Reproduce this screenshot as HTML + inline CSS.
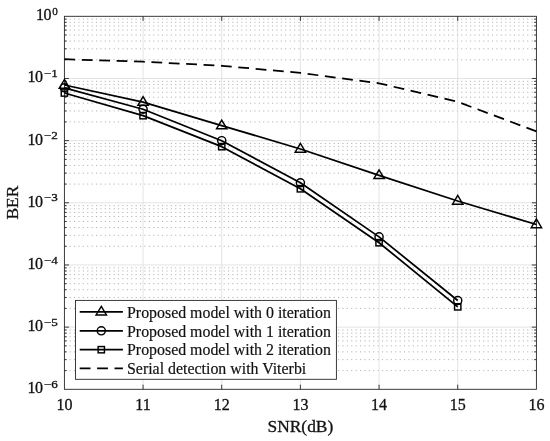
<!DOCTYPE html>
<html><head><meta charset="utf-8"><title>BER vs SNR</title>
<style>
html,body{margin:0;padding:0;background:#fff;}
svg{display:block;}
text{font-family:"Liberation Serif","DejaVu Serif",serif;fill:#111;stroke:#111;stroke-width:0.3px;}
.lg text{stroke-width:0.18px;}
</style></head>
<body>
<svg width="550" height="441" viewBox="0 0 550 441">
<rect x="0" y="0" width="550" height="441" fill="#fff"/>
<g stroke="#b0b0b0" stroke-width="1" stroke-dasharray="1.1 3.3" stroke-dashoffset="-0.8" fill="none">
<line x1="64.40" y1="59.75" x2="536.40" y2="59.75"/>
<line x1="64.40" y1="48.81" x2="536.40" y2="48.81"/>
<line x1="64.40" y1="41.04" x2="536.40" y2="41.04"/>
<line x1="64.40" y1="35.01" x2="536.40" y2="35.01"/>
<line x1="64.40" y1="30.09" x2="536.40" y2="30.09"/>
<line x1="64.40" y1="25.93" x2="536.40" y2="25.93"/>
<line x1="64.40" y1="22.32" x2="536.40" y2="22.32"/>
<line x1="64.40" y1="19.14" x2="536.40" y2="19.14"/>
<line x1="64.40" y1="121.92" x2="536.40" y2="121.92"/>
<line x1="64.40" y1="110.97" x2="536.40" y2="110.97"/>
<line x1="64.40" y1="103.21" x2="536.40" y2="103.21"/>
<line x1="64.40" y1="97.18" x2="536.40" y2="97.18"/>
<line x1="64.40" y1="92.26" x2="536.40" y2="92.26"/>
<line x1="64.40" y1="88.10" x2="536.40" y2="88.10"/>
<line x1="64.40" y1="84.49" x2="536.40" y2="84.49"/>
<line x1="64.40" y1="81.31" x2="536.40" y2="81.31"/>
<line x1="64.40" y1="184.09" x2="536.40" y2="184.09"/>
<line x1="64.40" y1="173.14" x2="536.40" y2="173.14"/>
<line x1="64.40" y1="165.37" x2="536.40" y2="165.37"/>
<line x1="64.40" y1="159.35" x2="536.40" y2="159.35"/>
<line x1="64.40" y1="154.42" x2="536.40" y2="154.42"/>
<line x1="64.40" y1="150.26" x2="536.40" y2="150.26"/>
<line x1="64.40" y1="146.66" x2="536.40" y2="146.66"/>
<line x1="64.40" y1="143.48" x2="536.40" y2="143.48"/>
<line x1="64.40" y1="246.25" x2="536.40" y2="246.25"/>
<line x1="64.40" y1="235.31" x2="536.40" y2="235.31"/>
<line x1="64.40" y1="227.54" x2="536.40" y2="227.54"/>
<line x1="64.40" y1="221.51" x2="536.40" y2="221.51"/>
<line x1="64.40" y1="216.59" x2="536.40" y2="216.59"/>
<line x1="64.40" y1="212.43" x2="536.40" y2="212.43"/>
<line x1="64.40" y1="208.82" x2="536.40" y2="208.82"/>
<line x1="64.40" y1="205.64" x2="536.40" y2="205.64"/>
<line x1="64.40" y1="308.42" x2="536.40" y2="308.42"/>
<line x1="64.40" y1="297.47" x2="536.40" y2="297.47"/>
<line x1="64.40" y1="289.71" x2="536.40" y2="289.71"/>
<line x1="64.40" y1="283.68" x2="536.40" y2="283.68"/>
<line x1="64.40" y1="278.76" x2="536.40" y2="278.76"/>
<line x1="64.40" y1="274.60" x2="536.40" y2="274.60"/>
<line x1="64.40" y1="270.99" x2="536.40" y2="270.99"/>
<line x1="64.40" y1="267.81" x2="536.40" y2="267.81"/>
<line x1="64.40" y1="370.59" x2="536.40" y2="370.59"/>
<line x1="64.40" y1="359.64" x2="536.40" y2="359.64"/>
<line x1="64.40" y1="351.87" x2="536.40" y2="351.87"/>
<line x1="64.40" y1="345.85" x2="536.40" y2="345.85"/>
<line x1="64.40" y1="340.92" x2="536.40" y2="340.92"/>
<line x1="64.40" y1="336.76" x2="536.40" y2="336.76"/>
<line x1="64.40" y1="333.16" x2="536.40" y2="333.16"/>
<line x1="64.40" y1="329.98" x2="536.40" y2="329.98"/>
</g>
<g stroke="#dcdcdc" stroke-width="0.8" fill="none">
<line x1="64.40" y1="78.47" x2="536.40" y2="78.47"/>
<line x1="64.40" y1="140.63" x2="536.40" y2="140.63"/>
<line x1="64.40" y1="202.80" x2="536.40" y2="202.80"/>
<line x1="64.40" y1="264.97" x2="536.40" y2="264.97"/>
<line x1="64.40" y1="327.13" x2="536.40" y2="327.13"/>
<line x1="143.07" y1="16.30" x2="143.07" y2="389.30"/>
<line x1="221.73" y1="16.30" x2="221.73" y2="389.30"/>
<line x1="300.40" y1="16.30" x2="300.40" y2="389.30"/>
<line x1="379.07" y1="16.30" x2="379.07" y2="389.30"/>
<line x1="457.73" y1="16.30" x2="457.73" y2="389.30"/>
</g>
<g stroke="#262626" stroke-width="0.9" fill="none">
<line x1="143.07" y1="389.30" x2="143.07" y2="384.70"/>
<line x1="143.07" y1="16.30" x2="143.07" y2="20.90"/>
<line x1="221.73" y1="389.30" x2="221.73" y2="384.70"/>
<line x1="221.73" y1="16.30" x2="221.73" y2="20.90"/>
<line x1="300.40" y1="389.30" x2="300.40" y2="384.70"/>
<line x1="300.40" y1="16.30" x2="300.40" y2="20.90"/>
<line x1="379.07" y1="389.30" x2="379.07" y2="384.70"/>
<line x1="379.07" y1="16.30" x2="379.07" y2="20.90"/>
<line x1="457.73" y1="389.30" x2="457.73" y2="384.70"/>
<line x1="457.73" y1="16.30" x2="457.73" y2="20.90"/>
<line x1="64.40" y1="78.47" x2="69.00" y2="78.47"/>
<line x1="536.40" y1="78.47" x2="531.80" y2="78.47"/>
<line x1="64.40" y1="140.63" x2="69.00" y2="140.63"/>
<line x1="536.40" y1="140.63" x2="531.80" y2="140.63"/>
<line x1="64.40" y1="202.80" x2="69.00" y2="202.80"/>
<line x1="536.40" y1="202.80" x2="531.80" y2="202.80"/>
<line x1="64.40" y1="264.97" x2="69.00" y2="264.97"/>
<line x1="536.40" y1="264.97" x2="531.80" y2="264.97"/>
<line x1="64.40" y1="327.13" x2="69.00" y2="327.13"/>
<line x1="536.40" y1="327.13" x2="531.80" y2="327.13"/>
<line x1="64.40" y1="59.75" x2="66.70" y2="59.75"/>
<line x1="536.40" y1="59.75" x2="534.10" y2="59.75"/>
<line x1="64.40" y1="48.81" x2="66.70" y2="48.81"/>
<line x1="536.40" y1="48.81" x2="534.10" y2="48.81"/>
<line x1="64.40" y1="41.04" x2="66.70" y2="41.04"/>
<line x1="536.40" y1="41.04" x2="534.10" y2="41.04"/>
<line x1="64.40" y1="35.01" x2="66.70" y2="35.01"/>
<line x1="536.40" y1="35.01" x2="534.10" y2="35.01"/>
<line x1="64.40" y1="30.09" x2="66.70" y2="30.09"/>
<line x1="536.40" y1="30.09" x2="534.10" y2="30.09"/>
<line x1="64.40" y1="25.93" x2="66.70" y2="25.93"/>
<line x1="536.40" y1="25.93" x2="534.10" y2="25.93"/>
<line x1="64.40" y1="22.32" x2="66.70" y2="22.32"/>
<line x1="536.40" y1="22.32" x2="534.10" y2="22.32"/>
<line x1="64.40" y1="19.14" x2="66.70" y2="19.14"/>
<line x1="536.40" y1="19.14" x2="534.10" y2="19.14"/>
<line x1="64.40" y1="121.92" x2="66.70" y2="121.92"/>
<line x1="536.40" y1="121.92" x2="534.10" y2="121.92"/>
<line x1="64.40" y1="110.97" x2="66.70" y2="110.97"/>
<line x1="536.40" y1="110.97" x2="534.10" y2="110.97"/>
<line x1="64.40" y1="103.21" x2="66.70" y2="103.21"/>
<line x1="536.40" y1="103.21" x2="534.10" y2="103.21"/>
<line x1="64.40" y1="97.18" x2="66.70" y2="97.18"/>
<line x1="536.40" y1="97.18" x2="534.10" y2="97.18"/>
<line x1="64.40" y1="92.26" x2="66.70" y2="92.26"/>
<line x1="536.40" y1="92.26" x2="534.10" y2="92.26"/>
<line x1="64.40" y1="88.10" x2="66.70" y2="88.10"/>
<line x1="536.40" y1="88.10" x2="534.10" y2="88.10"/>
<line x1="64.40" y1="84.49" x2="66.70" y2="84.49"/>
<line x1="536.40" y1="84.49" x2="534.10" y2="84.49"/>
<line x1="64.40" y1="81.31" x2="66.70" y2="81.31"/>
<line x1="536.40" y1="81.31" x2="534.10" y2="81.31"/>
<line x1="64.40" y1="184.09" x2="66.70" y2="184.09"/>
<line x1="536.40" y1="184.09" x2="534.10" y2="184.09"/>
<line x1="64.40" y1="173.14" x2="66.70" y2="173.14"/>
<line x1="536.40" y1="173.14" x2="534.10" y2="173.14"/>
<line x1="64.40" y1="165.37" x2="66.70" y2="165.37"/>
<line x1="536.40" y1="165.37" x2="534.10" y2="165.37"/>
<line x1="64.40" y1="159.35" x2="66.70" y2="159.35"/>
<line x1="536.40" y1="159.35" x2="534.10" y2="159.35"/>
<line x1="64.40" y1="154.42" x2="66.70" y2="154.42"/>
<line x1="536.40" y1="154.42" x2="534.10" y2="154.42"/>
<line x1="64.40" y1="150.26" x2="66.70" y2="150.26"/>
<line x1="536.40" y1="150.26" x2="534.10" y2="150.26"/>
<line x1="64.40" y1="146.66" x2="66.70" y2="146.66"/>
<line x1="536.40" y1="146.66" x2="534.10" y2="146.66"/>
<line x1="64.40" y1="143.48" x2="66.70" y2="143.48"/>
<line x1="536.40" y1="143.48" x2="534.10" y2="143.48"/>
<line x1="64.40" y1="246.25" x2="66.70" y2="246.25"/>
<line x1="536.40" y1="246.25" x2="534.10" y2="246.25"/>
<line x1="64.40" y1="235.31" x2="66.70" y2="235.31"/>
<line x1="536.40" y1="235.31" x2="534.10" y2="235.31"/>
<line x1="64.40" y1="227.54" x2="66.70" y2="227.54"/>
<line x1="536.40" y1="227.54" x2="534.10" y2="227.54"/>
<line x1="64.40" y1="221.51" x2="66.70" y2="221.51"/>
<line x1="536.40" y1="221.51" x2="534.10" y2="221.51"/>
<line x1="64.40" y1="216.59" x2="66.70" y2="216.59"/>
<line x1="536.40" y1="216.59" x2="534.10" y2="216.59"/>
<line x1="64.40" y1="212.43" x2="66.70" y2="212.43"/>
<line x1="536.40" y1="212.43" x2="534.10" y2="212.43"/>
<line x1="64.40" y1="208.82" x2="66.70" y2="208.82"/>
<line x1="536.40" y1="208.82" x2="534.10" y2="208.82"/>
<line x1="64.40" y1="205.64" x2="66.70" y2="205.64"/>
<line x1="536.40" y1="205.64" x2="534.10" y2="205.64"/>
<line x1="64.40" y1="308.42" x2="66.70" y2="308.42"/>
<line x1="536.40" y1="308.42" x2="534.10" y2="308.42"/>
<line x1="64.40" y1="297.47" x2="66.70" y2="297.47"/>
<line x1="536.40" y1="297.47" x2="534.10" y2="297.47"/>
<line x1="64.40" y1="289.71" x2="66.70" y2="289.71"/>
<line x1="536.40" y1="289.71" x2="534.10" y2="289.71"/>
<line x1="64.40" y1="283.68" x2="66.70" y2="283.68"/>
<line x1="536.40" y1="283.68" x2="534.10" y2="283.68"/>
<line x1="64.40" y1="278.76" x2="66.70" y2="278.76"/>
<line x1="536.40" y1="278.76" x2="534.10" y2="278.76"/>
<line x1="64.40" y1="274.60" x2="66.70" y2="274.60"/>
<line x1="536.40" y1="274.60" x2="534.10" y2="274.60"/>
<line x1="64.40" y1="270.99" x2="66.70" y2="270.99"/>
<line x1="536.40" y1="270.99" x2="534.10" y2="270.99"/>
<line x1="64.40" y1="267.81" x2="66.70" y2="267.81"/>
<line x1="536.40" y1="267.81" x2="534.10" y2="267.81"/>
<line x1="64.40" y1="370.59" x2="66.70" y2="370.59"/>
<line x1="536.40" y1="370.59" x2="534.10" y2="370.59"/>
<line x1="64.40" y1="359.64" x2="66.70" y2="359.64"/>
<line x1="536.40" y1="359.64" x2="534.10" y2="359.64"/>
<line x1="64.40" y1="351.87" x2="66.70" y2="351.87"/>
<line x1="536.40" y1="351.87" x2="534.10" y2="351.87"/>
<line x1="64.40" y1="345.85" x2="66.70" y2="345.85"/>
<line x1="536.40" y1="345.85" x2="534.10" y2="345.85"/>
<line x1="64.40" y1="340.92" x2="66.70" y2="340.92"/>
<line x1="536.40" y1="340.92" x2="534.10" y2="340.92"/>
<line x1="64.40" y1="336.76" x2="66.70" y2="336.76"/>
<line x1="536.40" y1="336.76" x2="534.10" y2="336.76"/>
<line x1="64.40" y1="333.16" x2="66.70" y2="333.16"/>
<line x1="536.40" y1="333.16" x2="534.10" y2="333.16"/>
<line x1="64.40" y1="329.98" x2="66.70" y2="329.98"/>
<line x1="536.40" y1="329.98" x2="534.10" y2="329.98"/>
</g>
<rect x="64.40" y="16.30" width="472.00" height="373.00" fill="none" stroke="#262626" stroke-width="0.9"/>
<g fill="none" stroke="#000" stroke-width="1.75" stroke-linejoin="round">
<polyline stroke-dasharray="10.8 6.61" points="64.40,59.22 143.07,61.71 221.73,65.78 300.40,72.88 379.07,83.30 457.73,101.82 536.40,131.36"/>
<polyline points="64.40,85.00 143.07,102.08 221.73,125.59 300.40,148.98 379.07,175.39 457.73,200.97 536.40,224.48"/>
<polyline points="64.40,87.79 143.07,109.23 221.73,140.69 300.40,182.77 379.07,236.88 457.73,300.52"/>
<polyline points="64.40,92.99 143.07,115.68 221.73,146.66 300.40,188.79 379.07,242.72 457.73,306.85"/>
</g>
<g fill="none" stroke="#000" stroke-width="1.45" stroke-linejoin="miter">
<polygon points="64.40,79.50 59.20,88.20 69.60,88.20"/>
<polygon points="143.07,96.58 137.87,105.28 148.27,105.28"/>
<polygon points="221.73,120.09 216.53,128.79 226.93,128.79"/>
<polygon points="300.40,143.48 295.20,152.18 305.60,152.18"/>
<polygon points="379.07,169.89 373.87,178.59 384.27,178.59"/>
<polygon points="457.73,195.47 452.53,204.17 462.93,204.17"/>
<polygon points="536.40,218.98 531.20,227.68 541.60,227.68"/>
<circle cx="64.40" cy="87.79" r="4.05"/>
<circle cx="143.07" cy="109.23" r="4.05"/>
<circle cx="221.73" cy="140.69" r="4.05"/>
<circle cx="300.40" cy="182.77" r="4.05"/>
<circle cx="379.07" cy="236.88" r="4.05"/>
<circle cx="457.73" cy="300.52" r="4.05"/>
<rect x="61.25" y="89.84" width="6.3" height="6.3"/>
<rect x="139.92" y="112.53" width="6.3" height="6.3"/>
<rect x="218.58" y="143.51" width="6.3" height="6.3"/>
<rect x="297.25" y="185.64" width="6.3" height="6.3"/>
<rect x="375.92" y="239.57" width="6.3" height="6.3"/>
<rect x="454.58" y="303.70" width="6.3" height="6.3"/>
</g>
<rect x="75.50" y="300.40" width="260.90" height="78.90" fill="#fff" stroke="#262626" stroke-width="0.9"/>
<g fill="none" stroke="#000" stroke-width="1.75">
<line x1="79.7" y1="311.80" x2="122.9" y2="311.80"/>
<line x1="79.7" y1="330.80" x2="122.9" y2="330.80"/>
<line x1="79.7" y1="349.70" x2="122.9" y2="349.70"/>
<line x1="79.7" y1="368.40" x2="122.9" y2="368.40" stroke-dasharray="10.8 6.61"/>
</g>
<g fill="none" stroke="#000" stroke-width="1.45">
<polygon points="101.30,306.30 96.10,315.00 106.50,315.00"/>
<circle cx="101.3" cy="330.80" r="4.05"/>
<rect x="98.15" y="346.55" width="6.3" height="6.3"/>
</g>
<g class="lg" font-size="15.9px">
<text x="127.0" y="317.55">Proposed model with 0 iteration</text>
<text x="127.0" y="336.55">Proposed model with 1 iteration</text>
<text x="127.0" y="355.45">Proposed model with 2 iteration</text>
<text x="127.0" y="374.15">Serial detection with Viterbi</text>
</g>
<g font-size="16px" text-anchor="middle">
<text x="64.40" y="409.8">10</text>
<text x="143.07" y="409.8">11</text>
<text x="221.73" y="409.8">12</text>
<text x="300.40" y="409.8">13</text>
<text x="379.07" y="409.8">14</text>
<text x="457.73" y="409.8">15</text>
<text x="536.40" y="409.8">16</text>
</g>
<g>
<text x="35.9" y="20.20" font-size="16px" letter-spacing="-0.5">10</text><text transform="translate(52.2,14.90) scale(1.02,1)" font-size="10.9px">0</text>
<text x="27.5" y="82.37" font-size="16px" letter-spacing="-0.5">10</text><text transform="translate(43.8,77.07) scale(1.2,1)" font-size="10.9px">−1</text>
<text x="27.5" y="144.53" font-size="16px" letter-spacing="-0.5">10</text><text transform="translate(43.8,139.23) scale(1.2,1)" font-size="10.9px">−2</text>
<text x="27.5" y="206.70" font-size="16px" letter-spacing="-0.5">10</text><text transform="translate(43.8,201.40) scale(1.2,1)" font-size="10.9px">−3</text>
<text x="27.5" y="268.87" font-size="16px" letter-spacing="-0.5">10</text><text transform="translate(43.8,263.57) scale(1.2,1)" font-size="10.9px">−4</text>
<text x="27.5" y="331.03" font-size="16px" letter-spacing="-0.5">10</text><text transform="translate(43.8,325.73) scale(1.2,1)" font-size="10.9px">−5</text>
<text x="27.5" y="393.20" font-size="16px" letter-spacing="-0.5">10</text><text transform="translate(43.8,387.90) scale(1.2,1)" font-size="10.9px">−6</text>
</g>
<text x="300.4" y="431.5" font-size="17.4px" text-anchor="middle">SNR(dB)</text>
<text transform="translate(18.4,202.6) rotate(-90)" font-size="17.4px" text-anchor="middle">BER</text>
</svg>
</body></html>
